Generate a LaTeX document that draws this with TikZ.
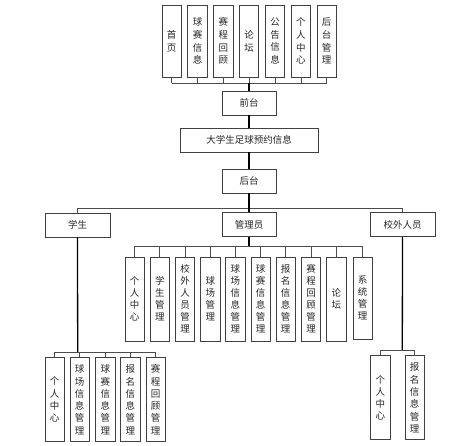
\documentclass[tikz,border=0pt]{standalone}
\usepackage{fontspec}
\newfontfamily\cjk{Noto Sans CJK SC}
\usepackage{tikz}

\begin{document}
\begin{tikzpicture}[x=1pt, y=-1pt,
	vbox/.style={draw=black!75, line width=0.8pt, fill=white, minimum width=19.5pt, minimum height=84pt, inner sep=0pt, align=center, text=black!85, font=\cjk\fontsize{9.5}{12.3}\selectfont},
	hbox/.style={draw=black!75, line width=0.8pt, fill=white, minimum height=24pt, inner sep=0pt, text=black!85, font=\cjk\fontsize{9.5}{12}\selectfont},
	link/.style={draw=black!70, line width=0.7pt},
	trunk/.style={draw=black, line width=1.3pt}]
	\useasboundingbox (0,0) rectangle (474,445);
	\newcommand\topY{41}
	\newcommand\adminY{299}
	% front end pages
	\node[vbox, minimum height=72pt, font=\cjk\fontsize{9.5}{12.8}\selectfont] (top1) at (171.7,\topY){首\\页};
	\node[vbox, minimum height=72pt, font=\cjk\fontsize{9.5}{12.8}\selectfont] (top2) at (197.5,\topY){球\\赛\\信\\息};
	\node[vbox, minimum height=72pt, font=\cjk\fontsize{9.5}{12.8}\selectfont] (top3) at (223.3,\topY){赛\\程\\回\\顾};
	\node[vbox, minimum height=72pt, font=\cjk\fontsize{9.5}{12.8}\selectfont] (top4) at (249.1,\topY){论\\坛};
	\node[vbox, minimum height=72pt, font=\cjk\fontsize{9.5}{12.8}\selectfont] (top5) at (275.0,\topY){公\\告\\信\\息};
	\node[vbox, minimum height=72pt, font=\cjk\fontsize{9.5}{12.8}\selectfont] (top6) at (300.9,\topY){个\\人\\中\\心};
	\node[vbox, minimum height=72pt, font=\cjk\fontsize{9.5}{12.8}\selectfont] (top7) at (326.7,\topY){后\\台\\管\\理};
	% main column
	\node[hbox, minimum width=54pt] (front) at (249,103){前台};
	\node[hbox, minimum width=138pt] (info) at (249,140){大学生足球预约信息};
	\node[hbox, minimum width=54pt] (back) at (249,181){后台};
	% roles
	\node[hbox, minimum width=65pt] (student) at (77.5,225){学生};
	\node[hbox, minimum width=54pt] (admin) at (249,224.5){管理员};
	\node[hbox, minimum width=65pt] (guest) at (402.5,224.5){校外人员};
	% admin functions
	\node[vbox, font=\cjk\fontsize{9.5}{12}\selectfont] (admin1) at (134.7,\adminY){个\\人\\中\\心};
	\node[vbox, font=\cjk\fontsize{9.5}{12}\selectfont] (admin2) at (159.8,\adminY){学\\生\\管\\理};
	\node[vbox, font=\cjk\fontsize{9.5}{12}\selectfont] (admin3) at (185.0,\adminY){校\\外\\人\\员\\管\\理};
	\node[vbox, font=\cjk\fontsize{9.5}{12}\selectfont] (admin4) at (210.3,\adminY){球\\场\\管\\理};
	\node[vbox, font=\cjk\fontsize{9.5}{12}\selectfont] (admin5) at (235.4,\adminY){球\\场\\信\\息\\管\\理};
	\node[vbox, font=\cjk\fontsize{9.5}{12}\selectfont] (admin6) at (260.7,\adminY){球\\赛\\信\\息\\管\\理};
	\node[vbox, font=\cjk\fontsize{9.5}{12}\selectfont] (admin7) at (285.7,\adminY){报\\名\\信\\息\\管\\理};
	\node[vbox, font=\cjk\fontsize{9.5}{12}\selectfont] (admin8) at (311.0,\adminY){赛\\程\\回\\顾\\管\\理};
	\node[vbox, font=\cjk\fontsize{9.5}{12}\selectfont] (admin9) at (336.3,\adminY){论\\坛};
	\node[vbox, font=\cjk\fontsize{9.5}{12}\selectfont, minimum height=82.3pt] (admin10) at (362.7,298.2){系\\统\\管\\理};
	% student functions
	\node[vbox] (student1) at (54.7,399.7){个\\人\\中\\心};
	\node[vbox] (student2) at (79.7,399.7){球\\场\\信\\息\\管\\理};
	\node[vbox] (student3) at (105.3,399.7){球\\赛\\信\\息\\管\\理};
	\node[vbox] (student4) at (130.3,399.7){报\\名\\信\\息\\管\\理};
	\node[vbox] (student5) at (155.7,399.7){赛\\程\\回\\顾\\管\\理};
	% guest functions
	\node[vbox] (guest1) at (380.3,397.8){个\\人\\中\\心};
	\node[vbox] (guest2) at (414.7,397.8){报\\名\\信\\息\\管\\理};
	% buses
	\coordinate (topBus) at (249,83);
	\coordinate (roleBus) at (249,208);
	\coordinate (adminBus) at (249,246);
	\coordinate (studentBus) at (77.7,352.3);
	\coordinate (guestBus) at (402.3,350);
	\draw[link] (top1.south) -- (top1.south |- topBus);
	\draw[link] (top2.south) -- (top2.south |- topBus);
	\draw[link] (top3.south) -- (top3.south |- topBus);
	\draw[link] (top4.south) -- (top4.south |- topBus);
	\draw[link] (top5.south) -- (top5.south |- topBus);
	\draw[link] (top6.south) -- (top6.south |- topBus);
	\draw[link] (top7.south) -- (top7.south |- topBus);
	\draw[link] (top1.south |- topBus) -- (top7.south |- topBus);
	\draw[trunk] (topBus) -- (front.north);
	\draw[trunk] (front.south) -- (info.north);
	\draw[trunk] (info.south) -- (back.north);
	\draw[trunk] (back.south) -- (roleBus);
	\draw[link] (student.north |- roleBus) -- (guest.north |- roleBus);
	\draw[link] (student.north) -- (student.north |- roleBus);
	\draw[link] (guest.north) -- (guest.north |- roleBus);
	\draw[trunk] (roleBus) -- (admin.north);
	\draw[trunk] (admin.south) -- (adminBus);
	\draw[link] (admin1.north) -- (admin1.north |- adminBus);
	\draw[link] (admin2.north) -- (admin2.north |- adminBus);
	\draw[link] (admin3.north) -- (admin3.north |- adminBus);
	\draw[link] (admin4.north) -- (admin4.north |- adminBus);
	\draw[link] (admin5.north) -- (admin5.north |- adminBus);
	\draw[link] (admin6.north) -- (admin6.north |- adminBus);
	\draw[link] (admin7.north) -- (admin7.north |- adminBus);
	\draw[link] (admin8.north) -- (admin8.north |- adminBus);
	\draw[link] (admin9.north) -- (admin9.north |- adminBus);
	\draw[link] (admin10.north) -- (admin10.north |- adminBus);
	\draw[link] (admin1.north |- adminBus) -- (admin10.north |- adminBus);
	\draw[trunk] (student.south) -- (studentBus);
	\draw[link] (student1.north) -- (student1.north |- studentBus);
	\draw[link] (student2.north) -- (student2.north |- studentBus);
	\draw[link] (student3.north) -- (student3.north |- studentBus);
	\draw[link] (student4.north) -- (student4.north |- studentBus);
	\draw[link] (student5.north) -- (student5.north |- studentBus);
	\draw[link] (student1.north |- studentBus) -- (student5.north |- studentBus);
	\draw[trunk] (guest.south) -- (guestBus);
	\draw[link] (guest1.north) -- (guest1.north |- guestBus);
	\draw[link] (guest2.north) -- (guest2.north |- guestBus);
	\draw[link] (guest1.north |- guestBus) -- (guest2.north |- guestBus);
\end{tikzpicture}
\end{document}
